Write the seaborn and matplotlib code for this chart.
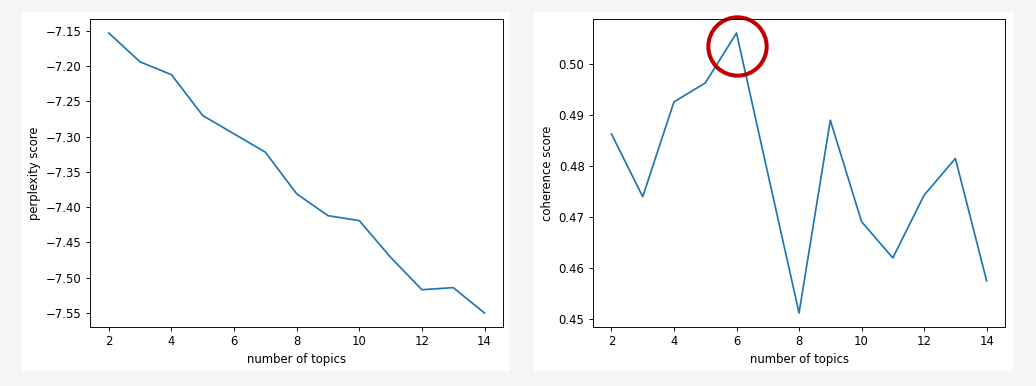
import matplotlib
matplotlib.use('Agg')
import matplotlib.pyplot as plt
import matplotlib.patches as mpatches
import seaborn as sns

# number of topics tried
topics = [2, 3, 4, 5, 6, 7, 8, 9, 10, 11, 12, 13, 14]
# log perplexity per topic count
perplexity = [-7.153, -7.194, -7.212, -7.270, -7.296, -7.322, -7.381, -7.412,
              -7.419, -7.471, -7.517, -7.514, -7.550]
# coherence per topic count
coherence = [0.4862, 0.4739, 0.4925, 0.4962, 0.5060, 0.4785, 0.4511, 0.4889,
             0.4690, 0.4619, 0.4742, 0.4814, 0.4574]

W, H = 1036, 386
scale = 0.833
plt.rcParams.update({
    'font.size': 10 * scale,
    'axes.linewidth': 0.8 * scale,
    'xtick.major.size': 3.5 * scale,
    'ytick.major.size': 3.5 * scale,
    'xtick.major.width': 0.8 * scale,
    'ytick.major.width': 0.8 * scale,
    'xtick.major.pad': 3.5 * scale,
    'ytick.major.pad': 3.5 * scale,
    'axes.labelpad': 4 * scale,
})

fig = plt.figure(figsize=(W / 100, H / 100), dpi=100, facecolor='#f5f5f5')

# white panels behind each chart
for x0, x1 in [(22, 510), (534, 1013)]:
    fig.patches.append(mpatches.Rectangle((x0 / W, (H - 371) / H), (x1 - x0) / W, (371 - 12) / H,
                                          transform=fig.transFigure, facecolor='white',
                                          edgecolor='none', zorder=-10))

ax1 = fig.add_axes([90 / W, (H - 327) / H, 413.3 / W, 308 / H])
ax2 = fig.add_axes([592.7 / W, (H - 327) / H, 412.7 / W, 308 / H])
for ax in (ax1, ax2):
    ax.set_zorder(5)

sns.lineplot(x=topics, y=perplexity, ax=ax1, color='#1f77b4', linewidth=1.5 * scale)
ax1.set_xlabel('number of topics')
ax1.set_ylabel('perplexity score')

sns.lineplot(x=topics, y=coherence, ax=ax2, color='#1f77b4', linewidth=1.5 * scale)
ax2.set_xlabel('number of topics')
ax2.set_ylabel('coherence score')

# red circle highlighting the best topic count
best = coherence.index(max(coherence))
ax2.plot([topics[best]], [0.50348], marker='o', markersize=42, fillstyle='none',
         markeredgecolor='#c00000', markeredgewidth=2.9, linestyle='none', clip_on=False)

fig.savefig('out.png', dpi=100, facecolor=fig.get_facecolor())
